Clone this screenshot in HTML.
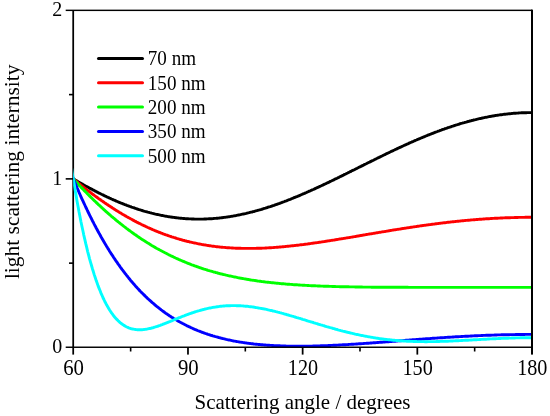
<!DOCTYPE html>
<html lang="en"><head><meta charset="utf-8"><title>Light scattering intensity</title>
<style>html,body{margin:0;padding:0;background:#fff}body{width:550px;height:416px;overflow:hidden}svg{display:block}text{font-family:"Liberation Serif","Times New Roman",serif;fill:#000}</style></head><body>
<svg width="550" height="416" viewBox="0 0 550 416">
<rect width="550" height="416" fill="#fff"/>
<defs><clipPath id="c"><rect x="73.20" y="10.35" width="459.80" height="339.05"/></clipPath></defs>
<g fill="#000">
<rect x="72.33" y="10.35" width="1.75" height="336.90"/>
<rect x="65.70" y="178.07" width="7.50" height="1.60"/>
<rect x="69.00" y="262.34" width="4.20" height="1.60"/>
<rect x="69.00" y="93.81" width="4.20" height="1.60"/>
</g>
<g fill="none" stroke-width="2.90" stroke-linejoin="round" stroke-linecap="butt" clip-path="url(#c)">
<polyline stroke="#000000" points="61.8,171.9 62.8,172.5 63.7,173.1 64.7,173.7 65.7,174.3 66.6,174.8 67.6,175.4 68.5,176.0 69.5,176.6 70.4,177.2 71.4,177.7 72.3,178.3 73.3,178.9 74.3,179.4 75.2,180.0 76.2,180.6 77.1,181.1 78.1,181.7 79.0,182.2 80.0,182.8 80.9,183.3 81.9,183.9 82.9,184.4 83.8,184.9 84.8,185.5 85.7,186.0 86.7,186.5 87.6,187.0 88.6,187.6 89.5,188.1 90.5,188.6 91.5,189.1 92.4,189.6 93.4,190.1 94.3,190.6 95.3,191.1 96.2,191.6 97.2,192.1 98.1,192.6 99.1,193.1 100.1,193.5 101.0,194.0 102.0,194.5 102.9,194.9 103.9,195.4 104.8,195.9 105.8,196.3 106.7,196.8 107.7,197.2 108.7,197.7 109.6,198.1 110.6,198.5 111.5,199.0 112.5,199.4 113.4,199.8 114.4,200.2 115.3,200.6 116.3,201.1 117.3,201.5 118.2,201.9 119.2,202.3 120.1,202.7 121.1,203.1 122.0,203.4 123.0,203.8 123.9,204.2 124.9,204.6 125.9,204.9 126.8,205.3 127.8,205.7 128.7,206.0 129.7,206.4 130.6,206.7 131.6,207.1 132.5,207.4 133.5,207.7 134.5,208.0 135.4,208.4 136.4,208.7 137.3,209.0 138.3,209.3 139.2,209.6 140.2,209.9 141.1,210.2 142.1,210.5 143.1,210.8 144.0,211.1 145.0,211.4 145.9,211.6 146.9,211.9 147.8,212.2 148.8,212.4 149.8,212.7 150.7,212.9 151.7,213.2 152.6,213.4 153.6,213.6 154.5,213.9 155.5,214.1 156.4,214.3 157.4,214.5 158.4,214.7 159.3,214.9 160.3,215.1 161.2,215.3 162.2,215.5 163.1,215.7 164.1,215.9 165.0,216.1 166.0,216.2 167.0,216.4 167.9,216.6 168.9,216.7 169.8,216.9 170.8,217.0 171.7,217.2 172.7,217.3 173.6,217.4 174.6,217.5 175.6,217.7 176.5,217.8 177.5,217.9 178.4,218.0 179.4,218.1 180.3,218.2 181.3,218.3 182.2,218.4 183.2,218.5 184.2,218.5 185.1,218.6 186.1,218.7 187.0,218.7 188.0,218.8 188.9,218.9 189.9,218.9 190.8,218.9 191.8,219.0 192.8,219.0 193.7,219.0 194.7,219.1 195.6,219.1 196.6,219.1 197.5,219.1 198.5,219.1 199.4,219.1 200.4,219.1 201.4,219.1 202.3,219.1 203.3,219.1 204.2,219.0 205.2,219.0 206.1,219.0 207.1,218.9 208.0,218.9 209.0,218.8 210.0,218.8 210.9,218.7 211.9,218.7 212.8,218.6 213.8,218.5 214.7,218.4 215.7,218.4 216.6,218.3 217.6,218.2 218.6,218.1 219.5,218.0 220.5,217.9 221.4,217.8 222.4,217.7 223.3,217.5 224.3,217.4 225.2,217.3 226.2,217.1 227.2,217.0 228.1,216.9 229.1,216.7 230.0,216.6 231.0,216.4 231.9,216.3 232.9,216.1 233.8,215.9 234.8,215.8 235.8,215.6 236.7,215.4 237.7,215.2 238.6,215.0 239.6,214.8 240.5,214.6 241.5,214.4 242.4,214.2 243.4,214.0 244.4,213.8 245.3,213.6 246.3,213.4 247.2,213.1 248.2,212.9 249.1,212.7 250.1,212.4 251.0,212.2 252.0,212.0 253.0,211.7 253.9,211.5 254.9,211.2 255.8,210.9 256.8,210.7 257.7,210.4 258.7,210.1 259.6,209.9 260.6,209.6 261.6,209.3 262.5,209.0 263.5,208.7 264.4,208.4 265.4,208.1 266.3,207.8 267.3,207.5 268.2,207.2 269.2,206.9 270.2,206.6 271.1,206.3 272.1,206.0 273.0,205.6 274.0,205.3 274.9,205.0 275.9,204.6 276.8,204.3 277.8,204.0 278.8,203.6 279.7,203.3 280.7,202.9 281.6,202.6 282.6,202.2 283.5,201.9 284.5,201.5 285.4,201.1 286.4,200.8 287.4,200.4 288.3,200.0 289.3,199.6 290.2,199.3 291.2,198.9 292.1,198.5 293.1,198.1 294.0,197.7 295.0,197.3 296.0,196.9 296.9,196.6 297.9,196.2 298.8,195.8 299.8,195.4 300.7,194.9 301.7,194.5 302.6,194.1 303.6,193.7 304.6,193.3 305.5,192.9 306.5,192.5 307.4,192.0 308.4,191.6 309.3,191.2 310.3,190.8 311.3,190.3 312.2,189.9 313.2,189.5 314.1,189.1 315.1,188.6 316.0,188.2 317.0,187.7 317.9,187.3 318.9,186.9 319.9,186.4 320.8,186.0 321.8,185.5 322.7,185.1 323.7,184.6 324.6,184.2 325.6,183.7 326.5,183.3 327.5,182.8 328.5,182.4 329.4,181.9 330.4,181.4 331.3,181.0 332.3,180.5 333.2,180.1 334.2,179.6 335.1,179.1 336.1,178.7 337.1,178.2 338.0,177.7 339.0,177.3 339.9,176.8 340.9,176.3 341.8,175.9 342.8,175.4 343.7,174.9 344.7,174.4 345.7,174.0 346.6,173.5 347.6,173.0 348.5,172.5 349.5,172.1 350.4,171.6 351.4,171.1 352.3,170.6 353.3,170.2 354.3,169.7 355.2,169.2 356.2,168.7 357.1,168.3 358.1,167.8 359.0,167.3 360.0,166.8 360.9,166.4 361.9,165.9 362.9,165.4 363.8,164.9 364.8,164.4 365.7,164.0 366.7,163.5 367.6,163.0 368.6,162.5 369.5,162.1 370.5,161.6 371.5,161.1 372.4,160.7 373.4,160.2 374.3,159.7 375.3,159.2 376.2,158.8 377.2,158.3 378.1,157.8 379.1,157.4 380.1,156.9 381.0,156.4 382.0,156.0 382.9,155.5 383.9,155.0 384.8,154.6 385.8,154.1 386.7,153.6 387.7,153.2 388.7,152.7 389.6,152.3 390.6,151.8 391.5,151.3 392.5,150.9 393.4,150.4 394.4,150.0 395.3,149.5 396.3,149.1 397.3,148.6 398.2,148.2 399.2,147.7 400.1,147.3 401.1,146.9 402.0,146.4 403.0,146.0 403.9,145.5 404.9,145.1 405.9,144.7 406.8,144.2 407.8,143.8 408.7,143.4 409.7,142.9 410.6,142.5 411.6,142.1 412.5,141.7 413.5,141.3 414.5,140.8 415.4,140.4 416.4,140.0 417.3,139.6 418.3,139.2 419.2,138.8 420.2,138.4 421.1,138.0 422.1,137.6 423.1,137.2 424.0,136.8 425.0,136.4 425.9,136.0 426.9,135.6 427.8,135.2 428.8,134.8 429.7,134.5 430.7,134.1 431.7,133.7 432.6,133.3 433.6,133.0 434.5,132.6 435.5,132.2 436.4,131.9 437.4,131.5 438.3,131.1 439.3,130.8 440.3,130.4 441.2,130.1 442.2,129.7 443.1,129.4 444.1,129.1 445.0,128.7 446.0,128.4 446.9,128.1 447.9,127.7 448.9,127.4 449.8,127.1 450.8,126.8 451.7,126.4 452.7,126.1 453.6,125.8 454.6,125.5 455.6,125.2 456.5,124.9 457.5,124.6 458.4,124.3 459.4,124.0 460.3,123.7 461.3,123.4 462.2,123.2 463.2,122.9 464.2,122.6 465.1,122.3 466.1,122.1 467.0,121.8 468.0,121.5 468.9,121.3 469.9,121.0 470.8,120.8 471.8,120.5 472.8,120.3 473.7,120.0 474.7,119.8 475.6,119.6 476.6,119.3 477.5,119.1 478.5,118.9 479.4,118.7 480.4,118.5 481.4,118.3 482.3,118.0 483.3,117.8 484.2,117.6 485.2,117.4 486.1,117.3 487.1,117.1 488.0,116.9 489.0,116.7 490.0,116.5 490.9,116.3 491.9,116.2 492.8,116.0 493.8,115.8 494.7,115.7 495.7,115.5 496.6,115.4 497.6,115.2 498.6,115.1 499.5,114.9 500.5,114.8 501.4,114.7 502.4,114.6 503.3,114.4 504.3,114.3 505.2,114.2 506.2,114.1 507.2,114.0 508.1,113.9 509.1,113.8 510.0,113.7 511.0,113.6 511.9,113.5 512.9,113.4 513.8,113.3 514.8,113.3 515.8,113.2 516.7,113.1 517.7,113.1 518.6,113.0 519.6,112.9 520.5,112.9 521.5,112.8 522.4,112.8 523.4,112.8 524.4,112.7 525.3,112.7 526.3,112.7 527.2,112.6 528.2,112.6 529.1,112.6 530.1,112.6 531.0,112.6 532.0,112.6"/>
<polyline stroke="#ff0000" points="61.8,169.1 62.8,169.9 63.7,170.8 64.7,171.6 65.7,172.4 66.6,173.2 67.6,174.0 68.5,174.9 69.5,175.7 70.4,176.5 71.4,177.3 72.3,178.1 73.3,178.9 74.3,179.7 75.2,180.5 76.2,181.2 77.1,182.0 78.1,182.8 79.0,183.6 80.0,184.3 80.9,185.1 81.9,185.9 82.9,186.6 83.8,187.4 84.8,188.1 85.7,188.9 86.7,189.6 87.6,190.4 88.6,191.1 89.5,191.8 90.5,192.5 91.5,193.3 92.4,194.0 93.4,194.7 94.3,195.4 95.3,196.1 96.2,196.8 97.2,197.5 98.1,198.2 99.1,198.9 100.1,199.5 101.0,200.2 102.0,200.9 102.9,201.5 103.9,202.2 104.8,202.9 105.8,203.5 106.7,204.2 107.7,204.8 108.7,205.5 109.6,206.1 110.6,206.7 111.5,207.3 112.5,208.0 113.4,208.6 114.4,209.2 115.3,209.8 116.3,210.4 117.3,211.0 118.2,211.6 119.2,212.2 120.1,212.7 121.1,213.3 122.0,213.9 123.0,214.5 123.9,215.0 124.9,215.6 125.9,216.1 126.8,216.7 127.8,217.2 128.7,217.8 129.7,218.3 130.6,218.8 131.6,219.3 132.5,219.9 133.5,220.4 134.5,220.9 135.4,221.4 136.4,221.9 137.3,222.4 138.3,222.9 139.2,223.3 140.2,223.8 141.1,224.3 142.1,224.8 143.1,225.2 144.0,225.7 145.0,226.1 145.9,226.6 146.9,227.0 147.8,227.5 148.8,227.9 149.8,228.3 150.7,228.7 151.7,229.2 152.6,229.6 153.6,230.0 154.5,230.4 155.5,230.8 156.4,231.2 157.4,231.6 158.4,232.0 159.3,232.3 160.3,232.7 161.2,233.1 162.2,233.4 163.1,233.8 164.1,234.2 165.0,234.5 166.0,234.9 167.0,235.2 167.9,235.5 168.9,235.9 169.8,236.2 170.8,236.5 171.7,236.8 172.7,237.1 173.6,237.4 174.6,237.7 175.6,238.0 176.5,238.3 177.5,238.6 178.4,238.9 179.4,239.2 180.3,239.5 181.3,239.7 182.2,240.0 183.2,240.3 184.2,240.5 185.1,240.8 186.1,241.0 187.0,241.3 188.0,241.5 188.9,241.7 189.9,242.0 190.8,242.2 191.8,242.4 192.8,242.6 193.7,242.8 194.7,243.0 195.6,243.2 196.6,243.4 197.5,243.6 198.5,243.8 199.4,244.0 200.4,244.2 201.4,244.4 202.3,244.6 203.3,244.7 204.2,244.9 205.2,245.0 206.1,245.2 207.1,245.4 208.0,245.5 209.0,245.7 210.0,245.8 210.9,245.9 211.9,246.1 212.8,246.2 213.8,246.3 214.7,246.4 215.7,246.6 216.6,246.7 217.6,246.8 218.6,246.9 219.5,247.0 220.5,247.1 221.4,247.2 222.4,247.3 223.3,247.4 224.3,247.4 225.2,247.5 226.2,247.6 227.2,247.7 228.1,247.7 229.1,247.8 230.0,247.9 231.0,247.9 231.9,248.0 232.9,248.0 233.8,248.1 234.8,248.1 235.8,248.2 236.7,248.2 237.7,248.3 238.6,248.3 239.6,248.3 240.5,248.3 241.5,248.4 242.4,248.4 243.4,248.4 244.4,248.4 245.3,248.4 246.3,248.4 247.2,248.4 248.2,248.4 249.1,248.4 250.1,248.4 251.0,248.4 252.0,248.4 253.0,248.4 253.9,248.4 254.9,248.4 255.8,248.4 256.8,248.3 257.7,248.3 258.7,248.3 259.6,248.3 260.6,248.2 261.6,248.2 262.5,248.1 263.5,248.1 264.4,248.1 265.4,248.0 266.3,248.0 267.3,247.9 268.2,247.9 269.2,247.8 270.2,247.7 271.1,247.7 272.1,247.6 273.0,247.6 274.0,247.5 274.9,247.4 275.9,247.4 276.8,247.3 277.8,247.2 278.8,247.1 279.7,247.0 280.7,247.0 281.6,246.9 282.6,246.8 283.5,246.7 284.5,246.6 285.4,246.5 286.4,246.4 287.4,246.3 288.3,246.2 289.3,246.1 290.2,246.0 291.2,245.9 292.1,245.8 293.1,245.7 294.0,245.6 295.0,245.5 296.0,245.4 296.9,245.3 297.9,245.2 298.8,245.1 299.8,244.9 300.7,244.8 301.7,244.7 302.6,244.6 303.6,244.5 304.6,244.3 305.5,244.2 306.5,244.1 307.4,244.0 308.4,243.8 309.3,243.7 310.3,243.6 311.3,243.4 312.2,243.3 313.2,243.2 314.1,243.0 315.1,242.9 316.0,242.8 317.0,242.6 317.9,242.5 318.9,242.3 319.9,242.2 320.8,242.1 321.8,241.9 322.7,241.8 323.7,241.6 324.6,241.5 325.6,241.3 326.5,241.2 327.5,241.0 328.5,240.9 329.4,240.7 330.4,240.6 331.3,240.4 332.3,240.3 333.2,240.1 334.2,240.0 335.1,239.8 336.1,239.7 337.1,239.5 338.0,239.4 339.0,239.2 339.9,239.0 340.9,238.9 341.8,238.7 342.8,238.6 343.7,238.4 344.7,238.3 345.7,238.1 346.6,237.9 347.6,237.8 348.5,237.6 349.5,237.5 350.4,237.3 351.4,237.1 352.3,237.0 353.3,236.8 354.3,236.6 355.2,236.5 356.2,236.3 357.1,236.2 358.1,236.0 359.0,235.8 360.0,235.7 360.9,235.5 361.9,235.3 362.9,235.2 363.8,235.0 364.8,234.9 365.7,234.7 366.7,234.5 367.6,234.4 368.6,234.2 369.5,234.0 370.5,233.9 371.5,233.7 372.4,233.6 373.4,233.4 374.3,233.2 375.3,233.1 376.2,232.9 377.2,232.7 378.1,232.6 379.1,232.4 380.1,232.3 381.0,232.1 382.0,231.9 382.9,231.8 383.9,231.6 384.8,231.5 385.8,231.3 386.7,231.1 387.7,231.0 388.7,230.8 389.6,230.7 390.6,230.5 391.5,230.4 392.5,230.2 393.4,230.0 394.4,229.9 395.3,229.7 396.3,229.6 397.3,229.4 398.2,229.3 399.2,229.1 400.1,229.0 401.1,228.8 402.0,228.7 403.0,228.5 403.9,228.4 404.9,228.2 405.9,228.1 406.8,227.9 407.8,227.8 408.7,227.6 409.7,227.5 410.6,227.3 411.6,227.2 412.5,227.1 413.5,226.9 414.5,226.8 415.4,226.6 416.4,226.5 417.3,226.3 418.3,226.2 419.2,226.1 420.2,225.9 421.1,225.8 422.1,225.7 423.1,225.5 424.0,225.4 425.0,225.3 425.9,225.1 426.9,225.0 427.8,224.9 428.8,224.7 429.7,224.6 430.7,224.5 431.7,224.3 432.6,224.2 433.6,224.1 434.5,224.0 435.5,223.8 436.4,223.7 437.4,223.6 438.3,223.5 439.3,223.4 440.3,223.2 441.2,223.1 442.2,223.0 443.1,222.9 444.1,222.8 445.0,222.7 446.0,222.6 446.9,222.4 447.9,222.3 448.9,222.2 449.8,222.1 450.8,222.0 451.7,221.9 452.7,221.8 453.6,221.7 454.6,221.6 455.6,221.5 456.5,221.4 457.5,221.3 458.4,221.2 459.4,221.1 460.3,221.0 461.3,220.9 462.2,220.8 463.2,220.7 464.2,220.6 465.1,220.5 466.1,220.4 467.0,220.4 468.0,220.3 468.9,220.2 469.9,220.1 470.8,220.0 471.8,219.9 472.8,219.9 473.7,219.8 474.7,219.7 475.6,219.6 476.6,219.5 477.5,219.5 478.5,219.4 479.4,219.3 480.4,219.2 481.4,219.2 482.3,219.1 483.3,219.0 484.2,219.0 485.2,218.9 486.1,218.8 487.1,218.8 488.0,218.7 489.0,218.7 490.0,218.6 490.9,218.5 491.9,218.5 492.8,218.4 493.8,218.4 494.7,218.3 495.7,218.3 496.6,218.2 497.6,218.2 498.6,218.1 499.5,218.1 500.5,218.0 501.4,218.0 502.4,218.0 503.3,217.9 504.3,217.9 505.2,217.8 506.2,217.8 507.2,217.8 508.1,217.7 509.1,217.7 510.0,217.7 511.0,217.6 511.9,217.6 512.9,217.6 513.8,217.6 514.8,217.5 515.8,217.5 516.7,217.5 517.7,217.5 518.6,217.4 519.6,217.4 520.5,217.4 521.5,217.4 522.4,217.4 523.4,217.4 524.4,217.4 525.3,217.3 526.3,217.3 527.2,217.3 528.2,217.3 529.1,217.3 530.1,217.3 531.0,217.3 532.0,217.3"/>
<polyline stroke="#00ff00" points="61.8,165.9 62.8,167.0 63.7,168.1 64.7,169.2 65.7,170.3 66.6,171.4 67.6,172.5 68.5,173.6 69.5,174.6 70.4,175.7 71.4,176.8 72.3,177.8 73.3,178.9 74.3,179.9 75.2,181.0 76.2,182.0 77.1,183.0 78.1,184.1 79.0,185.1 80.0,186.1 80.9,187.1 81.9,188.1 82.9,189.1 83.8,190.1 84.8,191.1 85.7,192.0 86.7,193.0 87.6,194.0 88.6,195.0 89.5,195.9 90.5,196.9 91.5,197.8 92.4,198.7 93.4,199.7 94.3,200.6 95.3,201.5 96.2,202.4 97.2,203.4 98.1,204.3 99.1,205.2 100.1,206.0 101.0,206.9 102.0,207.8 102.9,208.7 103.9,209.6 104.8,210.4 105.8,211.3 106.7,212.1 107.7,213.0 108.7,213.8 109.6,214.6 110.6,215.5 111.5,216.3 112.5,217.1 113.4,217.9 114.4,218.7 115.3,219.5 116.3,220.3 117.3,221.1 118.2,221.9 119.2,222.6 120.1,223.4 121.1,224.2 122.0,224.9 123.0,225.7 123.9,226.4 124.9,227.1 125.9,227.9 126.8,228.6 127.8,229.3 128.7,230.0 129.7,230.7 130.6,231.4 131.6,232.1 132.5,232.8 133.5,233.5 134.5,234.2 135.4,234.8 136.4,235.5 137.3,236.2 138.3,236.8 139.2,237.5 140.2,238.1 141.1,238.8 142.1,239.4 143.1,240.0 144.0,240.6 145.0,241.2 145.9,241.8 146.9,242.4 147.8,243.0 148.8,243.6 149.8,244.2 150.7,244.8 151.7,245.4 152.6,245.9 153.6,246.5 154.5,247.1 155.5,247.6 156.4,248.2 157.4,248.7 158.4,249.2 159.3,249.8 160.3,250.3 161.2,250.8 162.2,251.3 163.1,251.8 164.1,252.3 165.0,252.8 166.0,253.3 167.0,253.8 167.9,254.3 168.9,254.8 169.8,255.2 170.8,255.7 171.7,256.2 172.7,256.6 173.6,257.1 174.6,257.5 175.6,258.0 176.5,258.4 177.5,258.8 178.4,259.3 179.4,259.7 180.3,260.1 181.3,260.5 182.2,260.9 183.2,261.3 184.2,261.7 185.1,262.1 186.1,262.5 187.0,262.9 188.0,263.3 188.9,263.7 189.9,264.0 190.8,264.4 191.8,264.8 192.8,265.1 193.7,265.5 194.7,265.8 195.6,266.2 196.6,266.5 197.5,266.8 198.5,267.2 199.4,267.5 200.4,267.8 201.4,268.2 202.3,268.5 203.3,268.8 204.2,269.1 205.2,269.4 206.1,269.7 207.1,270.0 208.0,270.3 209.0,270.6 210.0,270.9 210.9,271.1 211.9,271.4 212.8,271.7 213.8,272.0 214.7,272.2 215.7,272.5 216.6,272.7 217.6,273.0 218.6,273.3 219.5,273.5 220.5,273.8 221.4,274.0 222.4,274.2 223.3,274.5 224.3,274.7 225.2,274.9 226.2,275.2 227.2,275.4 228.1,275.6 229.1,275.8 230.0,276.0 231.0,276.2 231.9,276.4 232.9,276.6 233.8,276.8 234.8,277.0 235.8,277.2 236.7,277.4 237.7,277.6 238.6,277.8 239.6,278.0 240.5,278.2 241.5,278.3 242.4,278.5 243.4,278.7 244.4,278.9 245.3,279.0 246.3,279.2 247.2,279.3 248.2,279.5 249.1,279.7 250.1,279.8 251.0,280.0 252.0,280.1 253.0,280.3 253.9,280.4 254.9,280.5 255.8,280.7 256.8,280.8 257.7,281.0 258.7,281.1 259.6,281.2 260.6,281.3 261.6,281.5 262.5,281.6 263.5,281.7 264.4,281.8 265.4,282.0 266.3,282.1 267.3,282.2 268.2,282.3 269.2,282.4 270.2,282.5 271.1,282.6 272.1,282.7 273.0,282.8 274.0,282.9 274.9,283.0 275.9,283.1 276.8,283.2 277.8,283.3 278.8,283.4 279.7,283.5 280.7,283.6 281.6,283.7 282.6,283.8 283.5,283.8 284.5,283.9 285.4,284.0 286.4,284.1 287.4,284.2 288.3,284.2 289.3,284.3 290.2,284.4 291.2,284.4 292.1,284.5 293.1,284.6 294.0,284.7 295.0,284.7 296.0,284.8 296.9,284.8 297.9,284.9 298.8,285.0 299.8,285.0 300.7,285.1 301.7,285.1 302.6,285.2 303.6,285.3 304.6,285.3 305.5,285.4 306.5,285.4 307.4,285.5 308.4,285.5 309.3,285.6 310.3,285.6 311.3,285.7 312.2,285.7 313.2,285.7 314.1,285.8 315.1,285.8 316.0,285.9 317.0,285.9 317.9,286.0 318.9,286.0 319.9,286.0 320.8,286.1 321.8,286.1 322.7,286.1 323.7,286.2 324.6,286.2 325.6,286.2 326.5,286.3 327.5,286.3 328.5,286.3 329.4,286.4 330.4,286.4 331.3,286.4 332.3,286.5 333.2,286.5 334.2,286.5 335.1,286.5 336.1,286.6 337.1,286.6 338.0,286.6 339.0,286.6 339.9,286.7 340.9,286.7 341.8,286.7 342.8,286.7 343.7,286.7 344.7,286.8 345.7,286.8 346.6,286.8 347.6,286.8 348.5,286.8 349.5,286.9 350.4,286.9 351.4,286.9 352.3,286.9 353.3,286.9 354.3,286.9 355.2,287.0 356.2,287.0 357.1,287.0 358.1,287.0 359.0,287.0 360.0,287.0 360.9,287.0 361.9,287.0 362.9,287.1 363.8,287.1 364.8,287.1 365.7,287.1 366.7,287.1 367.6,287.1 368.6,287.1 369.5,287.1 370.5,287.1 371.5,287.2 372.4,287.2 373.4,287.2 374.3,287.2 375.3,287.2 376.2,287.2 377.2,287.2 378.1,287.2 379.1,287.2 380.1,287.2 381.0,287.2 382.0,287.2 382.9,287.2 383.9,287.2 384.8,287.3 385.8,287.3 386.7,287.3 387.7,287.3 388.7,287.3 389.6,287.3 390.6,287.3 391.5,287.3 392.5,287.3 393.4,287.3 394.4,287.3 395.3,287.3 396.3,287.3 397.3,287.3 398.2,287.3 399.2,287.3 400.1,287.3 401.1,287.3 402.0,287.3 403.0,287.3 403.9,287.3 404.9,287.3 405.9,287.3 406.8,287.3 407.8,287.3 408.7,287.4 409.7,287.4 410.6,287.4 411.6,287.4 412.5,287.4 413.5,287.4 414.5,287.4 415.4,287.4 416.4,287.4 417.3,287.4 418.3,287.4 419.2,287.4 420.2,287.4 421.1,287.4 422.1,287.4 423.1,287.4 424.0,287.4 425.0,287.4 425.9,287.4 426.9,287.4 427.8,287.4 428.8,287.4 429.7,287.4 430.7,287.4 431.7,287.4 432.6,287.4 433.6,287.4 434.5,287.4 435.5,287.4 436.4,287.4 437.4,287.4 438.3,287.4 439.3,287.4 440.3,287.4 441.2,287.4 442.2,287.4 443.1,287.4 444.1,287.4 445.0,287.4 446.0,287.4 446.9,287.4 447.9,287.4 448.9,287.4 449.8,287.4 450.8,287.4 451.7,287.4 452.7,287.4 453.6,287.4 454.6,287.4 455.6,287.4 456.5,287.4 457.5,287.4 458.4,287.4 459.4,287.4 460.3,287.4 461.3,287.4 462.2,287.4 463.2,287.4 464.2,287.4 465.1,287.4 466.1,287.4 467.0,287.4 468.0,287.4 468.9,287.4 469.9,287.4 470.8,287.4 471.8,287.4 472.8,287.4 473.7,287.4 474.7,287.4 475.6,287.4 476.6,287.4 477.5,287.4 478.5,287.4 479.4,287.4 480.4,287.4 481.4,287.4 482.3,287.4 483.3,287.4 484.2,287.4 485.2,287.4 486.1,287.4 487.1,287.4 488.0,287.4 489.0,287.4 490.0,287.4 490.9,287.4 491.9,287.4 492.8,287.4 493.8,287.4 494.7,287.4 495.7,287.4 496.6,287.4 497.6,287.4 498.6,287.4 499.5,287.4 500.5,287.4 501.4,287.4 502.4,287.4 503.3,287.4 504.3,287.4 505.2,287.4 506.2,287.4 507.2,287.4 508.1,287.4 509.1,287.4 510.0,287.4 511.0,287.4 511.9,287.4 512.9,287.4 513.8,287.4 514.8,287.4 515.8,287.4 516.7,287.4 517.7,287.4 518.6,287.4 519.6,287.4 520.5,287.4 521.5,287.4 522.4,287.4 523.4,287.4 524.4,287.4 525.3,287.4 526.3,287.4 527.2,287.4 528.2,287.4 529.1,287.4 530.1,287.4 531.0,287.4 532.0,287.4"/>
<polyline stroke="#0000ff" points="61.8,149.5 62.8,152.1 63.7,154.7 64.7,157.2 65.7,159.7 66.6,162.2 67.6,164.6 68.5,167.0 69.5,169.5 70.4,171.8 71.4,174.2 72.3,176.6 73.3,178.9 74.3,181.2 75.2,183.4 76.2,185.7 77.1,187.9 78.1,190.1 79.0,192.3 80.0,194.5 80.9,196.6 81.9,198.8 82.9,200.9 83.8,202.9 84.8,205.0 85.7,207.0 86.7,209.0 87.6,211.0 88.6,213.0 89.5,214.9 90.5,216.9 91.5,218.8 92.4,220.7 93.4,222.5 94.3,224.4 95.3,226.2 96.2,228.0 97.2,229.8 98.1,231.5 99.1,233.3 100.1,235.0 101.0,236.7 102.0,238.4 102.9,240.0 103.9,241.7 104.8,243.3 105.8,244.9 106.7,246.5 107.7,248.1 108.7,249.6 109.6,251.2 110.6,252.7 111.5,254.2 112.5,255.6 113.4,257.1 114.4,258.5 115.3,259.9 116.3,261.3 117.3,262.7 118.2,264.1 119.2,265.4 120.1,266.8 121.1,268.1 122.0,269.4 123.0,270.7 123.9,271.9 124.9,273.2 125.9,274.4 126.8,275.6 127.8,276.8 128.7,278.0 129.7,279.2 130.6,280.4 131.6,281.5 132.5,282.6 133.5,283.7 134.5,284.8 135.4,285.9 136.4,287.0 137.3,288.0 138.3,289.0 139.2,290.1 140.2,291.1 141.1,292.1 142.1,293.0 143.1,294.0 144.0,294.9 145.0,295.9 145.9,296.8 146.9,297.7 147.8,298.6 148.8,299.5 149.8,300.4 150.7,301.2 151.7,302.1 152.6,302.9 153.6,303.7 154.5,304.5 155.5,305.3 156.4,306.1 157.4,306.9 158.4,307.7 159.3,308.4 160.3,309.2 161.2,309.9 162.2,310.6 163.1,311.3 164.1,312.0 165.0,312.7 166.0,313.4 167.0,314.0 167.9,314.7 168.9,315.3 169.8,316.0 170.8,316.6 171.7,317.2 172.7,317.8 173.6,318.4 174.6,319.0 175.6,319.6 176.5,320.1 177.5,320.7 178.4,321.2 179.4,321.8 180.3,322.3 181.3,322.8 182.2,323.3 183.2,323.8 184.2,324.3 185.1,324.8 186.1,325.3 187.0,325.8 188.0,326.2 188.9,326.7 189.9,327.1 190.8,327.6 191.8,328.0 192.8,328.4 193.7,328.9 194.7,329.3 195.6,329.7 196.6,330.1 197.5,330.5 198.5,330.9 199.4,331.2 200.4,331.6 201.4,332.0 202.3,332.3 203.3,332.7 204.2,333.0 205.2,333.4 206.1,333.7 207.1,334.0 208.0,334.3 209.0,334.6 210.0,335.0 210.9,335.3 211.9,335.5 212.8,335.8 213.8,336.1 214.7,336.4 215.7,336.7 216.6,336.9 217.6,337.2 218.6,337.5 219.5,337.7 220.5,338.0 221.4,338.2 222.4,338.5 223.3,338.7 224.3,338.9 225.2,339.1 226.2,339.4 227.2,339.6 228.1,339.8 229.1,340.0 230.0,340.2 231.0,340.4 231.9,340.6 232.9,340.8 233.8,341.0 234.8,341.1 235.8,341.3 236.7,341.5 237.7,341.6 238.6,341.8 239.6,342.0 240.5,342.1 241.5,342.3 242.4,342.4 243.4,342.6 244.4,342.7 245.3,342.9 246.3,343.0 247.2,343.1 248.2,343.3 249.1,343.4 250.1,343.5 251.0,343.6 252.0,343.7 253.0,343.8 253.9,344.0 254.9,344.1 255.8,344.2 256.8,344.3 257.7,344.4 258.7,344.5 259.6,344.5 260.6,344.6 261.6,344.7 262.5,344.8 263.5,344.9 264.4,345.0 265.4,345.0 266.3,345.1 267.3,345.2 268.2,345.2 269.2,345.3 270.2,345.4 271.1,345.4 272.1,345.5 273.0,345.5 274.0,345.6 274.9,345.6 275.9,345.7 276.8,345.7 277.8,345.8 278.8,345.8 279.7,345.8 280.7,345.9 281.6,345.9 282.6,346.0 283.5,346.0 284.5,346.0 285.4,346.0 286.4,346.1 287.4,346.1 288.3,346.1 289.3,346.1 290.2,346.1 291.2,346.2 292.1,346.2 293.1,346.2 294.0,346.2 295.0,346.2 296.0,346.2 296.9,346.2 297.9,346.2 298.8,346.2 299.8,346.2 300.7,346.2 301.7,346.2 302.6,346.2 303.6,346.2 304.6,346.2 305.5,346.2 306.5,346.2 307.4,346.1 308.4,346.1 309.3,346.1 310.3,346.1 311.3,346.1 312.2,346.1 313.2,346.0 314.1,346.0 315.1,346.0 316.0,346.0 317.0,345.9 317.9,345.9 318.9,345.9 319.9,345.9 320.8,345.8 321.8,345.8 322.7,345.8 323.7,345.7 324.6,345.7 325.6,345.7 326.5,345.6 327.5,345.6 328.5,345.5 329.4,345.5 330.4,345.5 331.3,345.4 332.3,345.4 333.2,345.3 334.2,345.3 335.1,345.2 336.1,345.2 337.1,345.1 338.0,345.1 339.0,345.0 339.9,345.0 340.9,344.9 341.8,344.9 342.8,344.8 343.7,344.8 344.7,344.7 345.7,344.7 346.6,344.6 347.6,344.6 348.5,344.5 349.5,344.4 350.4,344.4 351.4,344.3 352.3,344.3 353.3,344.2 354.3,344.1 355.2,344.1 356.2,344.0 357.1,344.0 358.1,343.9 359.0,343.8 360.0,343.8 360.9,343.7 361.9,343.6 362.9,343.6 363.8,343.5 364.8,343.4 365.7,343.4 366.7,343.3 367.6,343.2 368.6,343.2 369.5,343.1 370.5,343.0 371.5,343.0 372.4,342.9 373.4,342.8 374.3,342.8 375.3,342.7 376.2,342.6 377.2,342.5 378.1,342.5 379.1,342.4 380.1,342.3 381.0,342.3 382.0,342.2 382.9,342.1 383.9,342.0 384.8,342.0 385.8,341.9 386.7,341.8 387.7,341.7 388.7,341.7 389.6,341.6 390.6,341.5 391.5,341.5 392.5,341.4 393.4,341.3 394.4,341.2 395.3,341.2 396.3,341.1 397.3,341.0 398.2,340.9 399.2,340.9 400.1,340.8 401.1,340.7 402.0,340.6 403.0,340.6 403.9,340.5 404.9,340.4 405.9,340.3 406.8,340.3 407.8,340.2 408.7,340.1 409.7,340.0 410.6,340.0 411.6,339.9 412.5,339.8 413.5,339.8 414.5,339.7 415.4,339.6 416.4,339.5 417.3,339.5 418.3,339.4 419.2,339.3 420.2,339.3 421.1,339.2 422.1,339.1 423.1,339.0 424.0,339.0 425.0,338.9 425.9,338.8 426.9,338.8 427.8,338.7 428.8,338.6 429.7,338.6 430.7,338.5 431.7,338.4 432.6,338.3 433.6,338.3 434.5,338.2 435.5,338.1 436.4,338.1 437.4,338.0 438.3,337.9 439.3,337.9 440.3,337.8 441.2,337.8 442.2,337.7 443.1,337.6 444.1,337.6 445.0,337.5 446.0,337.4 446.9,337.4 447.9,337.3 448.9,337.3 449.8,337.2 450.8,337.1 451.7,337.1 452.7,337.0 453.6,337.0 454.6,336.9 455.6,336.8 456.5,336.8 457.5,336.7 458.4,336.7 459.4,336.6 460.3,336.6 461.3,336.5 462.2,336.5 463.2,336.4 464.2,336.4 465.1,336.3 466.1,336.3 467.0,336.2 468.0,336.2 468.9,336.1 469.9,336.1 470.8,336.0 471.8,336.0 472.8,335.9 473.7,335.9 474.7,335.8 475.6,335.8 476.6,335.7 477.5,335.7 478.5,335.6 479.4,335.6 480.4,335.6 481.4,335.5 482.3,335.5 483.3,335.4 484.2,335.4 485.2,335.4 486.1,335.3 487.1,335.3 488.0,335.3 489.0,335.2 490.0,335.2 490.9,335.2 491.9,335.1 492.8,335.1 493.8,335.1 494.7,335.0 495.7,335.0 496.6,335.0 497.6,334.9 498.6,334.9 499.5,334.9 500.5,334.9 501.4,334.8 502.4,334.8 503.3,334.8 504.3,334.8 505.2,334.7 506.2,334.7 507.2,334.7 508.1,334.7 509.1,334.7 510.0,334.6 511.0,334.6 511.9,334.6 512.9,334.6 513.8,334.6 514.8,334.6 515.8,334.5 516.7,334.5 517.7,334.5 518.6,334.5 519.6,334.5 520.5,334.5 521.5,334.5 522.4,334.5 523.4,334.5 524.4,334.5 525.3,334.4 526.3,334.4 527.2,334.4 528.2,334.4 529.1,334.4 530.1,334.4 531.0,334.4 532.0,334.4"/>
<polyline stroke="#00ffff" points="61.8,94.8 62.8,102.8 63.7,110.6 64.7,118.3 65.7,125.7 66.6,133.0 67.6,140.1 68.5,147.0 69.5,153.7 70.4,160.2 71.4,166.6 72.3,172.8 73.3,178.9 74.3,184.8 75.2,190.5 76.2,196.0 77.1,201.4 78.1,206.7 79.0,211.8 80.0,216.7 80.9,221.5 81.9,226.2 82.9,230.7 83.8,235.1 84.8,239.3 85.7,243.4 86.7,247.4 87.6,251.3 88.6,255.0 89.5,258.6 90.5,262.1 91.5,265.5 92.4,268.7 93.4,271.8 94.3,274.9 95.3,277.8 96.2,280.6 97.2,283.3 98.1,285.9 99.1,288.4 100.1,290.8 101.0,293.1 102.0,295.3 102.9,297.5 103.9,299.5 104.8,301.5 105.8,303.3 106.7,305.1 107.7,306.8 108.7,308.5 109.6,310.0 110.6,311.5 111.5,312.9 112.5,314.2 113.4,315.5 114.4,316.7 115.3,317.8 116.3,318.9 117.3,319.9 118.2,320.8 119.2,321.7 120.1,322.6 121.1,323.3 122.0,324.1 123.0,324.7 123.9,325.4 124.9,325.9 125.9,326.5 126.8,327.0 127.8,327.4 128.7,327.8 129.7,328.2 130.6,328.5 131.6,328.8 132.5,329.0 133.5,329.2 134.5,329.4 135.4,329.5 136.4,329.6 137.3,329.7 138.3,329.8 139.2,329.8 140.2,329.8 141.1,329.8 142.1,329.7 143.1,329.6 144.0,329.5 145.0,329.4 145.9,329.3 146.9,329.1 147.8,328.9 148.8,328.7 149.8,328.5 150.7,328.3 151.7,328.0 152.6,327.8 153.6,327.5 154.5,327.2 155.5,326.9 156.4,326.6 157.4,326.3 158.4,326.0 159.3,325.6 160.3,325.3 161.2,324.9 162.2,324.6 163.1,324.2 164.1,323.8 165.0,323.5 166.0,323.1 167.0,322.7 167.9,322.3 168.9,321.9 169.8,321.6 170.8,321.2 171.7,320.8 172.7,320.4 173.6,320.0 174.6,319.6 175.6,319.2 176.5,318.8 177.5,318.4 178.4,318.0 179.4,317.7 180.3,317.3 181.3,316.9 182.2,316.5 183.2,316.1 184.2,315.8 185.1,315.4 186.1,315.0 187.0,314.7 188.0,314.3 188.9,314.0 189.9,313.6 190.8,313.3 191.8,313.0 192.8,312.7 193.7,312.3 194.7,312.0 195.6,311.7 196.6,311.4 197.5,311.1 198.5,310.8 199.4,310.6 200.4,310.3 201.4,310.0 202.3,309.8 203.3,309.5 204.2,309.3 205.2,309.0 206.1,308.8 207.1,308.6 208.0,308.4 209.0,308.2 210.0,308.0 210.9,307.8 211.9,307.6 212.8,307.4 213.8,307.3 214.7,307.1 215.7,307.0 216.6,306.8 217.6,306.7 218.6,306.6 219.5,306.4 220.5,306.3 221.4,306.2 222.4,306.1 223.3,306.0 224.3,306.0 225.2,305.9 226.2,305.8 227.2,305.8 228.1,305.7 229.1,305.7 230.0,305.7 231.0,305.6 231.9,305.6 232.9,305.6 233.8,305.6 234.8,305.6 235.8,305.6 236.7,305.7 237.7,305.7 238.6,305.7 239.6,305.8 240.5,305.8 241.5,305.9 242.4,305.9 243.4,306.0 244.4,306.1 245.3,306.2 246.3,306.3 247.2,306.3 248.2,306.4 249.1,306.6 250.1,306.7 251.0,306.8 252.0,306.9 253.0,307.0 253.9,307.2 254.9,307.3 255.8,307.5 256.8,307.6 257.7,307.8 258.7,308.0 259.6,308.1 260.6,308.3 261.6,308.5 262.5,308.7 263.5,308.8 264.4,309.0 265.4,309.2 266.3,309.4 267.3,309.6 268.2,309.9 269.2,310.1 270.2,310.3 271.1,310.5 272.1,310.7 273.0,311.0 274.0,311.2 274.9,311.4 275.9,311.7 276.8,311.9 277.8,312.2 278.8,312.4 279.7,312.7 280.7,312.9 281.6,313.2 282.6,313.4 283.5,313.7 284.5,314.0 285.4,314.2 286.4,314.5 287.4,314.8 288.3,315.0 289.3,315.3 290.2,315.6 291.2,315.9 292.1,316.2 293.1,316.4 294.0,316.7 295.0,317.0 296.0,317.3 296.9,317.6 297.9,317.9 298.8,318.2 299.8,318.4 300.7,318.7 301.7,319.0 302.6,319.3 303.6,319.6 304.6,319.9 305.5,320.2 306.5,320.5 307.4,320.8 308.4,321.1 309.3,321.4 310.3,321.7 311.3,322.0 312.2,322.2 313.2,322.5 314.1,322.8 315.1,323.1 316.0,323.4 317.0,323.7 317.9,324.0 318.9,324.3 319.9,324.6 320.8,324.9 321.8,325.1 322.7,325.4 323.7,325.7 324.6,326.0 325.6,326.3 326.5,326.6 327.5,326.8 328.5,327.1 329.4,327.4 330.4,327.7 331.3,327.9 332.3,328.2 333.2,328.5 334.2,328.7 335.1,329.0 336.1,329.3 337.1,329.5 338.0,329.8 339.0,330.1 339.9,330.3 340.9,330.6 341.8,330.8 342.8,331.1 343.7,331.3 344.7,331.5 345.7,331.8 346.6,332.0 347.6,332.3 348.5,332.5 349.5,332.7 350.4,333.0 351.4,333.2 352.3,333.4 353.3,333.6 354.3,333.8 355.2,334.1 356.2,334.3 357.1,334.5 358.1,334.7 359.0,334.9 360.0,335.1 360.9,335.3 361.9,335.5 362.9,335.7 363.8,335.9 364.8,336.1 365.7,336.2 366.7,336.4 367.6,336.6 368.6,336.8 369.5,336.9 370.5,337.1 371.5,337.3 372.4,337.4 373.4,337.6 374.3,337.8 375.3,337.9 376.2,338.1 377.2,338.2 378.1,338.3 379.1,338.5 380.1,338.6 381.0,338.8 382.0,338.9 382.9,339.0 383.9,339.1 384.8,339.3 385.8,339.4 386.7,339.5 387.7,339.6 388.7,339.7 389.6,339.8 390.6,339.9 391.5,340.0 392.5,340.1 393.4,340.2 394.4,340.3 395.3,340.4 396.3,340.5 397.3,340.5 398.2,340.6 399.2,340.7 400.1,340.8 401.1,340.8 402.0,340.9 403.0,341.0 403.9,341.0 404.9,341.1 405.9,341.1 406.8,341.2 407.8,341.2 408.7,341.3 409.7,341.3 410.6,341.4 411.6,341.4 412.5,341.4 413.5,341.5 414.5,341.5 415.4,341.5 416.4,341.5 417.3,341.6 418.3,341.6 419.2,341.6 420.2,341.6 421.1,341.6 422.1,341.6 423.1,341.6 424.0,341.6 425.0,341.7 425.9,341.7 426.9,341.7 427.8,341.6 428.8,341.6 429.7,341.6 430.7,341.6 431.7,341.6 432.6,341.6 433.6,341.6 434.5,341.6 435.5,341.6 436.4,341.5 437.4,341.5 438.3,341.5 439.3,341.5 440.3,341.4 441.2,341.4 442.2,341.4 443.1,341.3 444.1,341.3 445.0,341.3 446.0,341.2 446.9,341.2 447.9,341.2 448.9,341.1 449.8,341.1 450.8,341.0 451.7,341.0 452.7,341.0 453.6,340.9 454.6,340.9 455.6,340.8 456.5,340.8 457.5,340.7 458.4,340.7 459.4,340.6 460.3,340.6 461.3,340.5 462.2,340.5 463.2,340.4 464.2,340.4 465.1,340.3 466.1,340.3 467.0,340.2 468.0,340.2 468.9,340.1 469.9,340.1 470.8,340.0 471.8,340.0 472.8,339.9 473.7,339.8 474.7,339.8 475.6,339.7 476.6,339.7 477.5,339.6 478.5,339.6 479.4,339.5 480.4,339.5 481.4,339.4 482.3,339.4 483.3,339.3 484.2,339.3 485.2,339.2 486.1,339.2 487.1,339.1 488.0,339.0 489.0,339.0 490.0,338.9 490.9,338.9 491.9,338.9 492.8,338.8 493.8,338.8 494.7,338.7 495.7,338.7 496.6,338.6 497.6,338.6 498.6,338.5 499.5,338.5 500.5,338.5 501.4,338.4 502.4,338.4 503.3,338.3 504.3,338.3 505.2,338.3 506.2,338.2 507.2,338.2 508.1,338.2 509.1,338.1 510.0,338.1 511.0,338.1 511.9,338.0 512.9,338.0 513.8,338.0 514.8,338.0 515.8,337.9 516.7,337.9 517.7,337.9 518.6,337.9 519.6,337.9 520.5,337.8 521.5,337.8 522.4,337.8 523.4,337.8 524.4,337.8 525.3,337.8 526.3,337.8 527.2,337.8 528.2,337.8 529.1,337.8 530.1,337.7 531.0,337.7 532.0,337.7"/>
</g>
<g fill="#000">
<rect x="65.70" y="9.62" width="466.30" height="1.45"/>
<rect x="65.70" y="346.52" width="466.30" height="1.45"/>
<rect x="531.00" y="9.62" width="2.00" height="344.98"/>
<rect x="72.33" y="347.25" width="1.75" height="7.35"/>
<rect x="187.10" y="347.25" width="1.75" height="7.35"/>
<rect x="301.77" y="347.25" width="1.75" height="7.35"/>
<rect x="416.45" y="347.25" width="1.75" height="7.35"/>
<rect x="129.84" y="347.25" width="1.60" height="4.25"/>
<rect x="244.51" y="347.25" width="1.60" height="4.25"/>
<rect x="359.19" y="347.25" width="1.60" height="4.25"/>
<rect x="473.86" y="347.25" width="1.60" height="4.25"/>
</g>
<g stroke-width="3" fill="none" stroke-linecap="round">
<path stroke="#000000" d="M98.5 58.40H142.5"/>
<path stroke="#ff0000" d="M98.5 82.75H142.5"/>
<path stroke="#00ff00" d="M98.5 107.10H142.5"/>
<path stroke="#0000ff" d="M98.5 131.45H142.5"/>
<path stroke="#00ffff" d="M98.5 155.80H142.5"/>
</g>
<g font-size="20">
<text transform="translate(147.8 65.20) scale(0.955 1)">70 nm</text>
<text transform="translate(147.8 89.55) scale(0.955 1)">150 nm</text>
<text transform="translate(147.8 113.90) scale(0.955 1)">200 nm</text>
<text transform="translate(147.8 138.25) scale(0.955 1)">350 nm</text>
<text transform="translate(147.8 162.60) scale(0.955 1)">500 nm</text>
<text transform="translate(73.60 375.1) scale(1.04 1.15)" text-anchor="middle">60</text>
<text transform="translate(188.28 375.1) scale(1.04 1.15)" text-anchor="middle">90</text>
<text transform="translate(302.95 375.1) scale(1.01 1.15)" text-anchor="middle">120</text>
<text transform="translate(417.62 375.1) scale(1.01 1.15)" text-anchor="middle">150</text>
<text transform="translate(532.30 375.1) scale(1.01 1.15)" text-anchor="middle">180</text>
<text x="62.3" y="352.90" text-anchor="end">0</text>
<text x="62.3" y="184.50" text-anchor="end">1</text>
<text x="62.3" y="15.60" text-anchor="end">2</text>
<text x="302.5" y="409" text-anchor="middle" font-size="20.3" textLength="216" lengthAdjust="spacingAndGlyphs">Scattering angle / degrees</text>
<text transform="translate(18.8 171.8) rotate(-90)" text-anchor="middle" textLength="214.6" lengthAdjust="spacingAndGlyphs">light scattering internsity</text>
</g>
</svg></body></html>
